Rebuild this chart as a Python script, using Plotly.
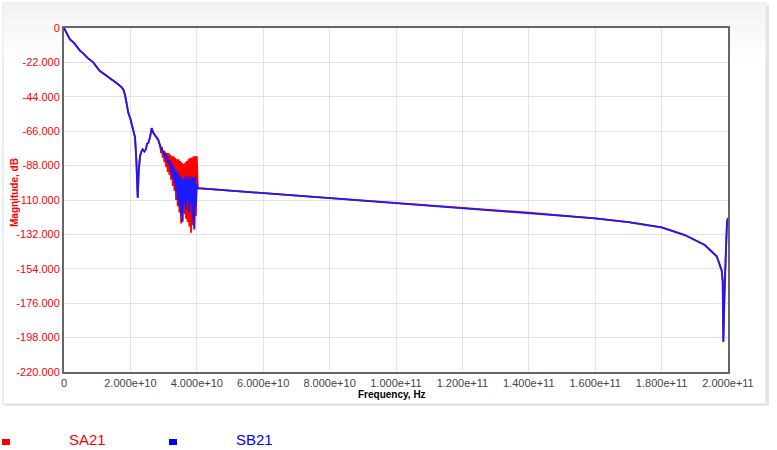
import plotly.graph_objects as go

# ---------------- data (frequency in GHz, magnitude in dB) ----------------
freq_low_ghz = [0, 1, 1.8, 3, 4.8, 5.8, 7, 8.8, 10.8, 12.5, 14.9, 16, 17.4, 17.9, 18.4,
                19.0, 19.4, 20.0, 20.4, 20.9, 21.4, 21.8, 22.2, 22.5, 22.9, 23.3, 23.7,
                24.2, 24.7, 25.0, 25.4, 25.9, 26.4, 26.9, 27.4, 27.9, 28.4, 28.9]
mag_low_db = [0, -4, -7.3, -9.5, -14.5, -16.2, -19, -22, -27.5, -30, -33.5, -35.5, -38,
              -39.5, -43, -50, -54.6, -58, -61, -65, -70, -85, -108.5, -92, -82, -79,
              -77.6, -79, -77.5, -74, -73.5, -70, -64, -67, -68.4, -70, -71.6, -75]

freq_noisy_ghz = [29.0, 29.25, 29.5, 29.75, 30.0, 30.25, 30.5, 30.75, 31.0, 31.25, 31.5,
                  31.75, 32.0, 32.25, 32.5, 32.75, 33.0, 33.25, 33.5, 33.75, 34.0, 34.25,
                  34.5, 34.75, 35.0, 35.25, 35.5, 35.75, 36.0, 36.25, 36.5, 36.75, 37.0,
                  37.25, 37.5, 37.75, 38.0, 38.25, 38.5, 38.75, 39.0, 39.25, 39.5, 39.75,
                  40.0]
sa21_noisy_db = [-75, -80, -76, -83, -78, -86, -79, -89, -80, -92, -80, -94, -81, -97,
                 -82, -101, -82, -104, -83, -110, -84, -114, -84, -118, -85, -125, -86,
                 -116, -87, -119, -86, -122, -85, -124, -84, -127, -83, -131, -83, -126,
                 -82, -129, -82, -120, -82]
sb21_noisy_db = [-76, -78, -77, -80, -79, -82, -80, -84, -82, -86, -84, -88, -85, -92,
                 -87, -96, -89, -99, -91, -104, -92, -110, -93, -114, -95, -120, -96,
                 -124, -97, -112, -95, -116, -96, -110, -95, -118, -97, -112, -95, -122,
                 -96, -128, -95, -114, -100]

freq_high_ghz = [40.3, 50, 60, 80, 100, 120, 140, 160, 170, 180, 187, 193, 196.6, 198.1,
                 198.4, 198.6, 198.9, 199.3, 199.7, 200]
mag_high_db = [-102.5, -104, -105.6, -108.8, -111.9, -115.0, -118.1, -121.7, -124.1,
               -127.5, -132.4, -138.8, -146, -155, -162, -200.6, -170, -147, -124, -121.5]

x_tick_vals = [0, 2e10, 4e10, 6e10, 8e10, 1e11, 1.2e11, 1.4e11, 1.6e11, 1.8e11, 2e11]
x_tick_text = ["0", "2.000e+10", "4.000e+10", "6.000e+10", "8.000e+10", "1.000e+11",
               "1.200e+11", "1.400e+11", "1.600e+11", "1.800e+11", "2.000e+11"]
y_tick_vals = [0, -22, -44, -66, -88, -110, -132, -154, -176, -198, -220]
y_tick_text = ["0", "-22.000", "-44.000", "-66.000", "-88.000", "-110.000", "-132.000",
               "-154.000", "-176.000", "-198.000", "-220.000"]

series_names = ["SA21", "SB21"]
series_colors = ["#ff0000", "#0000ff"]

# ---------------- build series ----------------
freq_all = [f * 1e9 for f in freq_low_ghz + freq_noisy_ghz + freq_high_ghz]
sa21 = mag_low_db + sa21_noisy_db + mag_high_db
sb21 = mag_low_db + sb21_noisy_db + mag_high_db

fig = go.Figure()
fig.add_trace(go.Scatter(x=freq_all, y=sa21, mode="lines", name=series_names[0],
                         line=dict(color=series_colors[0], width=1.8), showlegend=False))
fig.add_trace(go.Scatter(x=freq_all, y=sb21, mode="lines", name=series_names[1],
                         line=dict(color="#1a1aff", width=1.8), showlegend=False))

# ---------------- layout helpers (pixel -> paper) ----------------
L, R, T, B = 64, 728, 28, 372
W, H = R - L, B - T


def px(x):
    return (x - L) / W


def py(y):
    return (B - y) / H


shapes = []
# panel shadow
shapes.append(dict(type="rect", xref="paper", yref="paper", layer="below",
                   x0=px(5), x1=px(769), y0=py(406), y1=py(5),
                   fillcolor="#e6e6e6", line=dict(width=0)))
# panel
shapes.append(dict(type="rect", xref="paper", yref="paper", layer="below",
                   x0=px(3), x1=px(766), y0=py(404), y1=py(3),
                   fillcolor="#ffffff", line=dict(color="#dcdcdc", width=1)))
# top gradient bands
grad = ["#f3f3f3", "#f5f5f5", "#f7f7f7", "#f9f9f9", "#fbfbfb", "#fdfdfd"]
for i, c in enumerate(grad):
    shapes.append(dict(type="rect", xref="paper", yref="paper", layer="below",
                       x0=px(3.5), x1=px(765.5), y0=py(3.5 + 9 * (i + 1)), y1=py(3.5 + 9 * i),
                       fillcolor=c, line=dict(width=0)))
# plot area white
shapes.append(dict(type="rect", xref="paper", yref="paper", layer="below",
                   x0=0, x1=1, y0=0, y1=1, fillcolor="#ffffff", line=dict(width=0)))
# legend swatches
shapes.append(dict(type="rect", xref="paper", yref="paper",
                   x0=px(2), x1=px(10), y0=py(445), y1=py(439),
                   fillcolor=series_colors[0], line=dict(width=0)))
shapes.append(dict(type="rect", xref="paper", yref="paper",
                   x0=px(169), x1=px(177), y0=py(445), y1=py(439),
                   fillcolor=series_colors[1], line=dict(width=0)))

annotations = [
    dict(text="<b>Magnitude, dB</b>", xref="paper", yref="paper", x=px(14), y=py(192),
         textangle=-90, showarrow=False, font=dict(size=10, color="#ff0000"),
         xanchor="center", yanchor="middle"),
    dict(text="<b>Frequency, Hz</b>", xref="paper", yref="paper", x=px(392), y=py(394.5),
         showarrow=False, font=dict(size=10, color="#000000"),
         xanchor="center", yanchor="middle"),
    dict(text=series_names[0], xref="paper", yref="paper", x=px(67), y=py(440),
         showarrow=False, font=dict(size=15, color=series_colors[0]),
         xanchor="left", yanchor="middle"),
    dict(text=series_names[1], xref="paper", yref="paper", x=px(234), y=py(440),
         showarrow=False, font=dict(size=15, color=series_colors[1]),
         xanchor="left", yanchor="middle"),
]

fig.update_layout(
    width=777, height=450,
    margin=dict(l=L, r=777 - R, t=T, b=450 - B, pad=0),
    paper_bgcolor="#ffffff", plot_bgcolor="#ffffff",
    font=dict(family="Liberation Sans, Arial, sans-serif", size=12),
    shapes=shapes, annotations=annotations,
    xaxis=dict(range=[0, 2e11], tickvals=x_tick_vals, ticktext=x_tick_text,
               tickfont=dict(size=11, color="#444444"), showgrid=True,
               gridcolor="#e3e3e3", gridwidth=1, showline=True, linecolor="#666666",
               linewidth=2, mirror=True, zeroline=False, ticks="", fixedrange=True),
    yaxis=dict(range=[-220, 0], tickvals=y_tick_vals, ticktext=y_tick_text,
               tickfont=dict(size=11, color="#ff0000"), showgrid=True,
               gridcolor="#e3e3e3", gridwidth=1, showline=True, linecolor="#666666",
               linewidth=2, mirror=True, zeroline=False, ticks="", fixedrange=True),
)

fig.write_html("out.html", config={"displayModeBar": False},
               post_script="document.body.style.margin='0';document.body.style.overflow='hidden';")
